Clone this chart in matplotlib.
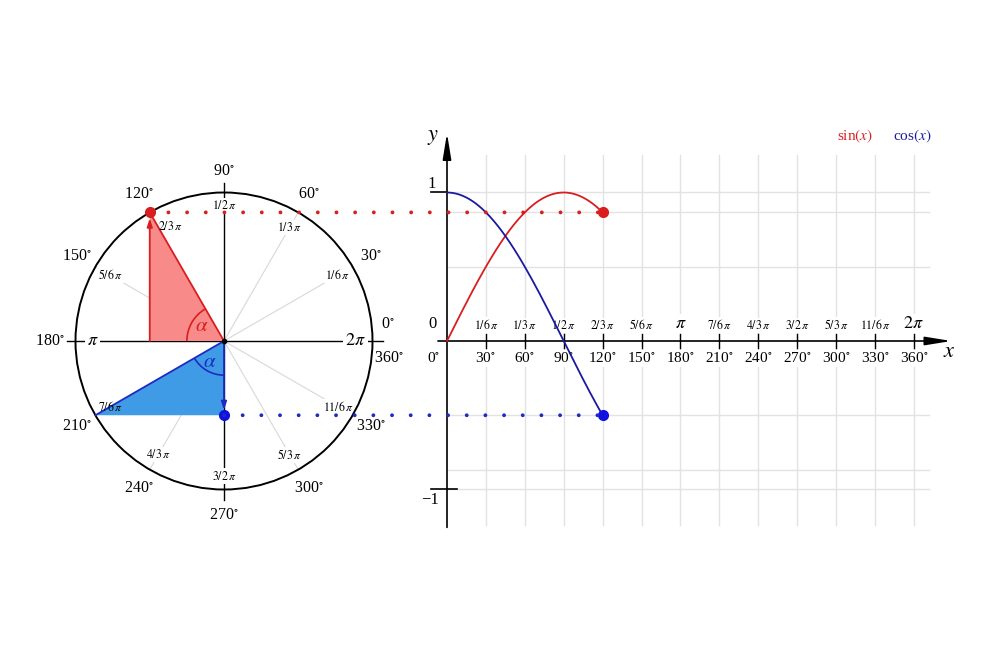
import numpy as np
import matplotlib.pyplot as plt
from matplotlib.patches import Circle, Polygon, Arc, ConnectionPatch

plt.rcParams['font.family'] = ['Liberation Serif', 'DejaVu Serif']
plt.rcParams['mathtext.fontset'] = 'stix'

# ---- data ----
circle_deg = [0, 30, 60, 90, 120, 150, 180, 210, 240, 270, 300, 330]
circle_pi = [r'$2\pi$', r'$1/6\,\pi$', r'$1/3\,\pi$', r'$1/2\,\pi$', r'$2/3\,\pi$',
             r'$5/6\,\pi$', r'$\pi$', r'$7/6\,\pi$', r'$4/3\,\pi$', r'$3/2\,\pi$',
             r'$5/3\,\pi$', r'$11/6\,\pi$']
circle_deg_txt = ['0', '30', '60', '90', '120', '150', '180', '210', '240',
                  '270', '300', '330']

graph_deg = [30, 60, 90, 120, 150, 180, 210, 240, 270, 300, 330, 360]
graph_pi = [r'$1/6\,\pi$', r'$1/3\,\pi$', r'$1/2\,\pi$', r'$2/3\,\pi$', r'$5/6\,\pi$',
            r'$\pi$', r'$7/6\,\pi$', r'$4/3\,\pi$', r'$3/2\,\pi$', r'$5/3\,\pi$',
            r'$11/6\,\pi$', r'$2\pi$']
grid_y = [-1, -0.866, -0.5, 0.5, 0.866, 1]

sin_angle = 120   # red triangle / sin(x)
cos_angle = 210   # blue triangle / cos(x)
curve_end = 120

RED = '#d81e1e'
RED_FILL = '#f98a8a'
BLUE = '#1d2bc4'
BLUE_FILL = '#3f9be6'
NAVY = '#1a1aa0'
GRID = '#e2e2e2'
RAY = '#d8d8d8'

# ---- layout (pixels of the 1000x667 picture) ----
W, H = 1000, 667
PX = 148.5            # pixels per unit of y (and circle radius)
X0C, X0G, Y0 = 224, 447, 341
DEG_PX = 38.9 / 30    # pixels per degree on the graph
split = 420

fig = plt.figure(figsize=(10, 6.67), dpi=100)
ax_c = fig.add_axes([0, 0, split / W, 1])
ax_g = fig.add_axes([split / W, 0, 1 - split / W, 1])
ylim = (-(H - Y0) / PX, Y0 / PX)
ax_c.set_xlim(-X0C / PX, (split - X0C) / PX)
ax_c.set_ylim(*ylim)
ax_g.set_xlim((split - X0G) / DEG_PX, (W - X0G) / DEG_PX)
ax_g.set_ylim(*ylim)
for ax in (ax_c, ax_g):
    ax.axis('off')

white = dict(boxstyle='square,pad=0.1', fc='white', ec='none')
head = '-|>,head_length=1.05,head_width=0.17'
small_head = '-|>,head_length=0.6,head_width=0.2'

# ---- unit circle ----
for d in circle_deg:
    if d in (0, 90, 180, 270, sin_angle, cos_angle):
        continue
    r = np.radians(d)
    ax_c.plot([0, np.cos(r)], [0, np.sin(r)], color=RAY, lw=0.8, zorder=1)

ax_c.plot([-1.06, 1.07], [0, 0], color='black', lw=1.0, zorder=1)
ax_c.plot([0, 0], [-1.07, 1.065], color='black', lw=1.0, zorder=1)
ax_c.add_patch(Circle((0, 0), 1, fill=False, ec='black', lw=1.4, zorder=4))

for d, lab in zip(circle_deg, circle_pi):
    r = np.radians(d)
    big = d in (0, 180)
    on_tri = d in (sin_angle, cos_angle)
    rr = 0.91 if d in (90, 270) else 0.885
    ang = r
    if d == sin_angle:
        rr, ang = 0.85, r - np.radians(5)
    ax_c.text(rr * np.cos(ang), rr * np.sin(ang), lab,
              fontsize=13 if big else 8.5, ha='center', va='center',
              bbox=None if on_tri else white, zorder=6 if on_tri else 2)

for d, lab in zip(circle_deg, circle_deg_txt):
    r = np.radians(d)
    rr = 1.17 if d in (180, 270) else 1.145
    x, y = rr * np.cos(r), rr * np.sin(r)
    if d == 0:
        x, y = 1.105, 0.115
        ax_c.text(1.11, -0.115, r'360$^{\circ}$', fontsize=11.5,
                  ha='center', va='center')
    ax_c.text(x, y, lab + r'$^{\circ}$', fontsize=11.5, ha='center', va='center')

# red triangle (sin)
rs = np.radians(sin_angle)
ps = (np.cos(rs), np.sin(rs))
ax_c.add_patch(Polygon([(0, 0), ps, (ps[0], 0)], closed=True, fc=RED_FILL,
                       ec='none', zorder=3))
ax_c.plot([0, ps[0]], [0, ps[1]], color=RED, lw=1.3, zorder=5)
ax_c.annotate('', xy=(ps[0], ps[1] - 0.04), xytext=(ps[0], 0), zorder=5,
              arrowprops=dict(arrowstyle=small_head, color=RED, lw=1.3,
                              shrinkA=0, shrinkB=0, mutation_scale=8))
ax_c.add_patch(Arc((0, 0), 0.5, 0.5, theta1=sin_angle, theta2=180, color=RED,
                   lw=1.2, zorder=5))
ax_c.text(-0.15, 0.1, r'$\alpha$', color=RED, fontsize=15, ha='center',
          va='center', zorder=6)

# blue triangle (cos)
rc = np.radians(cos_angle)
pc = (np.cos(rc), np.sin(rc))
ax_c.add_patch(Polygon([(0, 0), pc, (0, pc[1])], closed=True, fc=BLUE_FILL,
                       ec='none', zorder=3))
ax_c.plot([0, pc[0]], [0, pc[1]], color=BLUE, lw=1.3, zorder=5)
ax_c.annotate('', xy=(0, pc[1] + 0.035), xytext=(0, 0), zorder=5,
              arrowprops=dict(arrowstyle=small_head, color=BLUE, lw=1.3,
                              shrinkA=0, shrinkB=0, mutation_scale=8))
ax_c.add_patch(Arc((0, 0), 0.46, 0.46, theta1=cos_angle, theta2=270, color=BLUE,
                   lw=1.2, zorder=5))
ax_c.text(-0.095, -0.145, r'$\alpha$', color=BLUE, fontsize=15, ha='center',
          va='center', zorder=6)
ax_c.plot(0, 0, 'o', color='black', ms=3, zorder=7)

# ---- graph ----
y_top, y_bot = 1.255, -1.24
x_end = 372
for d in graph_deg:
    ax_g.plot([d, d], [y_bot, y_top], color=GRID, lw=1.0, zorder=0)
for v in grid_y:
    ax_g.plot([0, x_end], [v, v], color=GRID, lw=1.0, zorder=0)

ax_g.annotate('', xy=(389, 0), xytext=(-7, 0), zorder=3,
              arrowprops=dict(arrowstyle=head, color='black', lw=1.2,
                              shrinkA=0, shrinkB=0, mutation_scale=15))
ax_g.annotate('', xy=(0, 1.40), xytext=(0, -1.255), zorder=3,
              arrowprops=dict(arrowstyle=head, color='black', lw=1.2,
                              shrinkA=0, shrinkB=0, mutation_scale=15))
for d in graph_deg:
    ax_g.plot([d, d], [-0.045, 0.045], color='black', lw=1.0, zorder=3)
ax_g.plot([-12, 0], [1, 1], color='black', lw=1.2, zorder=3)
ax_g.plot([-12, 8], [-1, -1], color='black', lw=1.2, zorder=3)

for d, lab in zip(graph_deg, graph_pi):
    big = d in (180, 360)
    ax_g.text(d, 0.115 if big else 0.105, lab, fontsize=13 if big else 8.5,
              ha='center', va='center', bbox=white, zorder=2)
    ax_g.text(d, -0.115, str(d) + r'$^{\circ}$', fontsize=11, ha='center',
              va='center', bbox=white, zorder=2)
ax_g.text(-10, -0.115, r'0$^{\circ}$', fontsize=11, ha='center', va='center')
ax_g.text(-11.5, 0.115, '0', fontsize=12, ha='center', va='center')
ax_g.text(-11.5, 1.06, '1', fontsize=12, ha='center', va='center')
ax_g.text(-13, -1.07, '\u22121', fontsize=12, ha='center', va='center')
ax_g.text(-11, 1.37, r'$y$', fontsize=16, ha='center', va='center')
ax_g.text(387, -0.08, r'$x$', fontsize=16, ha='center', va='center')

ax_g.text(315, 1.38, r'sin$(x)$', color=RED, fontsize=11, ha='center', va='center')
ax_g.text(359, 1.38, r'cos$(x)$', color=NAVY, fontsize=11, ha='center', va='center')

xs = np.linspace(0, curve_end, 200)
ax_g.plot(xs, np.sin(np.radians(xs)), color=RED, lw=1.3, zorder=4)
ax_g.plot(xs, np.cos(np.radians(xs)), color=NAVY, lw=1.3, zorder=4)

# dotted projections from the circle to the graph
end_s = (curve_end, np.sin(np.radians(curve_end)))
end_c = (curve_end, np.cos(np.radians(curve_end)))
for start, end, col in ((ps, end_s, RED), ((0, pc[1]), end_c, BLUE)):
    con = ConnectionPatch(xyA=start, coordsA=ax_c.transData, xyB=end,
                          coordsB=ax_g.transData, color=col, lw=2.8,
                          linestyle=(0, (0.001, 4.8)), capstyle='round',
                          zorder=5)
    con.set_clip_on(False)
    fig.add_artist(con)

ax_c.plot(*ps, 'o', color=RED, ms=7, zorder=8, clip_on=False)
ax_c.plot(0, pc[1], 'o', color='#1010e0', ms=7, zorder=8, clip_on=False)
ax_g.plot(*end_s, 'o', color=RED, ms=7, zorder=8, clip_on=False)
ax_g.plot(*end_c, 'o', color='#1010e0', ms=7, zorder=8, clip_on=False)

fig.savefig('out.png', dpi=100, facecolor='white')
